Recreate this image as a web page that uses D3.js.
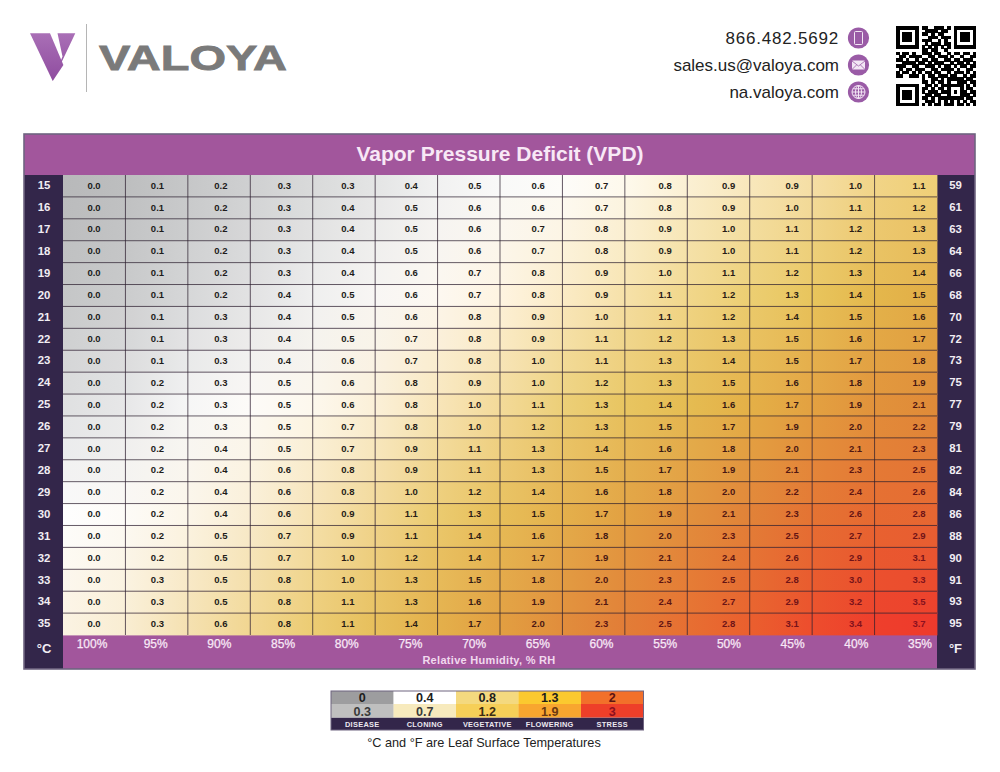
<!DOCTYPE html>
<html>
<head>
<meta charset="utf-8">
<title>Vapor Pressure Deficit (VPD)</title>
<script src="https://cdn.jsdelivr.net/npm/d3@7"></script>
<style>
  html, body { margin: 0; padding: 0; background: #fff; }
  svg { display: block; }
  text { font-family: "Liberation Sans", Arial, sans-serif; }
</style>
</head>
<body>
<div id="plot"></div>
<script>
const tempC = [15, 16, 17, 18, 19, 20, 21, 22, 23, 24, 25, 26, 27, 28, 29, 30, 31, 32, 33, 34, 35];
const tempF = [59, 61, 63, 64, 66, 68, 70, 72, 73, 75, 77, 79, 81, 82, 84, 86, 88, 90, 91, 93, 95];
const humidity = [100, 95, 90, 85, 80, 75, 70, 65, 60, 55, 50, 45, 40, 35];

const vpd = [
  [0.0, 0.1, 0.2, 0.3, 0.3, 0.4, 0.5, 0.6, 0.7, 0.8, 0.9, 0.9, 1.0, 1.1],
  [0.0, 0.1, 0.2, 0.3, 0.4, 0.5, 0.6, 0.6, 0.7, 0.8, 0.9, 1.0, 1.1, 1.2],
  [0.0, 0.1, 0.2, 0.3, 0.4, 0.5, 0.6, 0.7, 0.8, 0.9, 1.0, 1.1, 1.2, 1.3],
  [0.0, 0.1, 0.2, 0.3, 0.4, 0.5, 0.6, 0.7, 0.8, 0.9, 1.0, 1.1, 1.2, 1.3],
  [0.0, 0.1, 0.2, 0.3, 0.4, 0.6, 0.7, 0.8, 0.9, 1.0, 1.1, 1.2, 1.3, 1.4],
  [0.0, 0.1, 0.2, 0.4, 0.5, 0.6, 0.7, 0.8, 0.9, 1.1, 1.2, 1.3, 1.4, 1.5],
  [0.0, 0.1, 0.3, 0.4, 0.5, 0.6, 0.8, 0.9, 1.0, 1.1, 1.2, 1.4, 1.5, 1.6],
  [0.0, 0.1, 0.3, 0.4, 0.5, 0.7, 0.8, 0.9, 1.1, 1.2, 1.3, 1.5, 1.6, 1.7],
  [0.0, 0.1, 0.3, 0.4, 0.6, 0.7, 0.8, 1.0, 1.1, 1.3, 1.4, 1.5, 1.7, 1.8],
  [0.0, 0.2, 0.3, 0.5, 0.6, 0.8, 0.9, 1.0, 1.2, 1.3, 1.5, 1.6, 1.8, 1.9],
  [0.0, 0.2, 0.3, 0.5, 0.6, 0.8, 1.0, 1.1, 1.3, 1.4, 1.6, 1.7, 1.9, 2.1],
  [0.0, 0.2, 0.3, 0.5, 0.7, 0.8, 1.0, 1.2, 1.3, 1.5, 1.7, 1.9, 2.0, 2.2],
  [0.0, 0.2, 0.4, 0.5, 0.7, 0.9, 1.1, 1.3, 1.4, 1.6, 1.8, 2.0, 2.1, 2.3],
  [0.0, 0.2, 0.4, 0.6, 0.8, 0.9, 1.1, 1.3, 1.5, 1.7, 1.9, 2.1, 2.3, 2.5],
  [0.0, 0.2, 0.4, 0.6, 0.8, 1.0, 1.2, 1.4, 1.6, 1.8, 2.0, 2.2, 2.4, 2.6],
  [0.0, 0.2, 0.4, 0.6, 0.9, 1.1, 1.3, 1.5, 1.7, 1.9, 2.1, 2.3, 2.6, 2.8],
  [0.0, 0.2, 0.5, 0.7, 0.9, 1.1, 1.4, 1.6, 1.8, 2.0, 2.3, 2.5, 2.7, 2.9],
  [0.0, 0.2, 0.5, 0.7, 1.0, 1.2, 1.4, 1.7, 1.9, 2.1, 2.4, 2.6, 2.9, 3.1],
  [0.0, 0.3, 0.5, 0.8, 1.0, 1.3, 1.5, 1.8, 2.0, 2.3, 2.5, 2.8, 3.0, 3.3],
  [0.0, 0.3, 0.5, 0.8, 1.1, 1.3, 1.6, 1.9, 2.1, 2.4, 2.7, 2.9, 3.2, 3.5],
  [0.0, 0.3, 0.6, 0.8, 1.1, 1.4, 1.7, 2.0, 2.3, 2.5, 2.8, 3.1, 3.4, 3.7]
];

// background wash: it runs diagonally, so it is not a function of the value
const washRows = [0, 5, 10, 15, 20];
const washCols = [0, 2, 4, 6, 8, 10, 12, 13];
const washColors = [
  ['#b8b9ba', '#cacbcc', '#dedfdf', '#f7f7f7', '#fffdf9', '#f9ebc6', '#f3d998', '#efcf76'],
  ['#c5c6c7', '#dcdcdd', '#f5f5f5', '#fff9ef', '#f9e6b8', '#eed27c', '#e6c052', '#e2ad46'],
  ['#dfe0e1', '#fdfdfd', '#fdf6e8', '#f6dfa9', '#e9c968', '#e4b74a', '#e29a3e', '#e08a38'],
  ['#fefefe', '#fbf3e2', '#f4dca2', '#e8c55f', '#e2a945', '#e0893a', '#e56b30', '#e76632'],
  ['#fbf3e3', '#f3dba0', '#e9c764', '#e2a843', '#e0843a', '#e9682f', '#ee442c', '#ee3a2c']
];

const legendNames = ['DISEASE', 'CLONING', 'VEGETATIVE', 'FLOWERING', 'STRESS'];
const legendLow = ['0', '0.4', '0.8', '1.3', '2'];
const legendHigh = ['0.3', '0.7', '1.2', '1.9', '3'];
const legendLowColors = ['#9d9d9f', '#ffffff', '#f4d97f', '#fbc92f', '#f2702a'];
const legendHighColors = ['#bfbfbf', '#f7eabd', '#f6cf58', '#f8a62f', '#ee3f29'];

const contacts = ['866.482.5692', 'sales.us@valoya.com', 'na.valoya.com'];

const qrRows = [
  '1111111011001110101111111',
  '1000001001111011001000001',
  '1011101011010110001011101',
  '1011101000111011101011101',
  '1011101011100101001011101',
  '1000001001011101101000001',
  '1111111010101010101111111',
  '0000000011011001000000000',
  '1011010011101100101101101',
  '0110111100110111010010011',
  '1101001011011001101101110',
  '0011110110101110010110101',
  '1110011001110101101011011',
  '0101101110011011110100110',
  '1011010101101100101110101',
  '1100111010110111011001011',
  '0000000010011010111110110',
  '0000000011010110100111011',
  '1111111001101011111110101',
  '1000001011010110100010110',
  '1011101010111011101011011',
  '1011101001101100100011101',
  '1011101011010111111110110',
  '1000001001110101010101011',
  '1111111010101101110110101'
];

const width = 1000;
const height = 772;

const svg = d3
  .select('#plot')
  .append('svg')
  .attr('width', width)
  .attr('height', height);
const defs = svg.append('defs');

const purple = '#a2569c';
const navy = '#33264a';
const paleText = '#f8e8f6';

// header ------------------------------------------------------------------
const armGrad = defs.append('linearGradient').attr('id', 'arm').attr('x1', 0).attr('y1', 1).attr('x2', 0).attr('y2', 0);
armGrad.append('stop').attr('offset', 0).attr('stop-color', '#8f4c9f');
armGrad.append('stop').attr('offset', 1).attr('stop-color', '#a96fb6');

const logo = svg.append('g');
logo.append('path').attr('d', 'M57.5 33.3 H75.3 L52.7 81 L62.5 56.5 Z').attr('fill', 'url(#arm)');
logo.append('path').attr('d', 'M30 33.3 H50 L63.4 65 L52.7 81 Z').attr('fill', 'url(#arm)');
logo.append('line').attr('x1', 86.5).attr('x2', 86.5).attr('y1', 24).attr('y2', 92).attr('stroke', '#b5b5b5').attr('stroke-width', 1);
logo.append('text')
  .attr('x', 99)
  .attr('y', 70)
  .attr('font-size', 35)
  .attr('font-weight', 700)
  .attr('fill', '#7a7a7a')
  .attr('stroke', '#7a7a7a')
  .attr('stroke-width', 0.8)
  .attr('textLength', 188)
  .attr('lengthAdjust', 'spacingAndGlyphs')
  .text('VALOYA');

const contactY = d3.scalePoint().domain(contacts).range([38, 92]);

svg.append('g')
  .selectAll('text')
  .data(contacts)
  .enter()
  .append('text')
  .attr('x', 839)
  .attr('y', (d) => contactY(d) + 5.5)
  .attr('text-anchor', 'end')
  .attr('font-size', 17)
  .attr('letter-spacing', (d, i) => (i === 0 ? 0.8 : 0))
  .attr('fill', '#222')
  .text((d) => d);

const icons = svg.append('g')
  .selectAll('g')
  .data(contacts)
  .enter()
  .append('g')
  .attr('transform', (d) => `translate(858.5,${contactY(d)})`);
icons.append('circle').attr('r', 10.6).attr('fill', '#9a5ba6');

const iconLine = { fill: 'none', stroke: '#f3e6f5', 'stroke-width': 1 };
function styled(sel) {
  Object.keys(iconLine).forEach((k) => sel.attr(k, iconLine[k]));
  return sel;
}
styled(d3.select(icons.nodes()[0]).append('rect')).attr('x', -4).attr('y', -6.5).attr('width', 8).attr('height', 13).attr('rx', 1);
d3.select(icons.nodes()[1]).append('rect').attr('x', -6.5).attr('y', -4.5).attr('width', 13).attr('height', 9).attr('rx', 1).attr('fill', '#f3e6f5');
d3.select(icons.nodes()[1]).append('path').attr('d', 'M-6.5 -4 L0 1 L6.5 -4 M-6.5 4.5 L-2 0 M6.5 4.5 L2 0').attr('fill', 'none').attr('stroke', '#9a5ba6').attr('stroke-width', 0.8);
const globe = d3.select(icons.nodes()[2]);
styled(globe.append('circle')).attr('r', 6.5);
styled(globe.append('ellipse')).attr('rx', 3).attr('ry', 6.5);
styled(globe.append('path')).attr('d', 'M-6.5 0 H6.5 M-5.6 -3.2 H5.6 M-5.6 3.2 H5.6 M0 -6.5 V6.5');

const qrX = d3.scaleBand().domain(d3.range(25)).range([896, 976]);
const qrY = d3.scaleBand().domain(d3.range(25)).range([26, 106]);
const qrCells = [];
qrRows.forEach((row, r) => row.split('').forEach((c, i) => { if (c === '1') qrCells.push({ r, i }); }));
svg.append('g')
  .attr('shape-rendering', 'crispEdges')
  .selectAll('rect')
  .data(qrCells)
  .enter()
  .append('rect')
  .attr('x', (d) => qrX(d.i))
  .attr('y', (d) => qrY(d.r))
  .attr('width', qrX.bandwidth() + 0.3)
  .attr('height', qrY.bandwidth() + 0.3)
  .attr('fill', '#000');

// chart frame -------------------------------------------------------------
const x = d3.scaleBand().domain(humidity).range([63, 937]);
const y = d3.scaleBand().domain(tempC).range([175, 635]);
// the printed numbers sit on a slightly wider pitch than the grid
const labelX = d3.scalePoint().domain(humidity).range([94, 919]);
const headX = d3.scalePoint().domain(humidity).range([92, 920]);

svg.append('rect').attr('x', 24).attr('y', 134).attr('width', 951).attr('height', 535).attr('fill', purple);
svg.append('rect').attr('x', 24).attr('y', 175).attr('width', 39).attr('height', 494).attr('fill', navy);
svg.append('rect').attr('x', 937).attr('y', 175).attr('width', 38).attr('height', 494).attr('fill', navy);

svg.append('text')
  .attr('x', 500)
  .attr('y', 161)
  .attr('text-anchor', 'middle')
  .attr('font-size', 21)
  .attr('font-weight', 700)
  .attr('fill', paleText)
  .text('Vapor Pressure Deficit (VPD)');

// cells -------------------------------------------------------------------
const washScales = washColors.map((row) => d3.scaleLinear().domain(washCols).range(row).interpolate(d3.interpolateRgb));
function washAt(col, row) {
  const k = Math.min(washRows.length - 2, Math.floor(row / 5));
  const t = (row - washRows[k]) / (washRows[k + 1] - washRows[k]);
  const c = Math.max(0, Math.min(13, col));
  return d3.interpolateRgb(washScales[k](c), washScales[k + 1](c))(t);
}

const cells = [];
vpd.forEach((row, r) => row.forEach((v, c) => cells.push({ r, c, v })));

const cellGrads = defs.selectAll('linearGradient.cell')
  .data(cells)
  .enter()
  .append('linearGradient')
  .attr('class', 'cell')
  .attr('id', (d) => `cell-${d.r}-${d.c}`);
cellGrads.append('stop').attr('offset', 0).attr('stop-color', (d) => washAt(d.c - 0.5, d.r));
cellGrads.append('stop').attr('offset', 1).attr('stop-color', (d) => washAt(d.c + 0.5, d.r));

svg.append('g')
  .selectAll('rect')
  .data(cells)
  .enter()
  .append('rect')
  .attr('x', (d) => x(humidity[d.c]))
  .attr('y', (d) => y(tempC[d.r]))
  .attr('width', x.bandwidth() + 0.4)
  .attr('height', y.bandwidth() + 0.4)
  .attr('fill', (d) => `url(#cell-${d.r}-${d.c})`);

const grid = svg.append('g').attr('stroke', '#2b1f2e').attr('stroke-opacity', 0.72);
grid.selectAll('line.v')
  .data(humidity.slice(1))
  .enter()
  .append('line')
  .attr('class', 'v')
  .attr('x1', (d) => x(d))
  .attr('x2', (d) => x(d))
  .attr('y1', 175)
  .attr('y2', 635)
  .attr('stroke-width', 1);
grid.selectAll('line.h')
  .data(tempC.slice(1))
  .enter()
  .append('line')
  .attr('class', 'h')
  .attr('x1', 63)
  .attr('x2', 937)
  .attr('y1', (d) => y(d))
  .attr('y2', (d) => y(d))
  .attr('stroke-width', 1);

const inkScale = d3.scaleLinear().domain([0, 1.4, 2.3, 3.7]).range(['#1c1c1c', '#2c1c14', '#5c1512', '#8c1020']);

svg.append('g')
  .selectAll('text')
  .data(cells)
  .enter()
  .append('text')
  .attr('x', (d) => labelX(humidity[d.c]))
  .attr('y', (d) => y(tempC[d.r]) + y.bandwidth() / 2 + 2.7)
  .attr('text-anchor', 'middle')
  .attr('font-size', 9.5)
  .attr('font-weight', 700)
  .attr('fill', (d) => inkScale(d.v))
  .text((d) => d.v.toFixed(1));

// side and bottom labels --------------------------------------------------
function sideLabels(values, cx) {
  svg.append('g')
    .selectAll('text')
    .data(values)
    .enter()
    .append('text')
    .attr('x', cx)
    .attr('y', (d, i) => y(tempC[i]) + y.bandwidth() / 2 + 3.3)
    .attr('text-anchor', 'middle')
    .attr('font-size', 11.4)
    .attr('font-weight', 700)
    .attr('fill', '#f1edf3')
    .text((d) => d);
}
sideLabels(tempC, 44);
sideLabels(tempF, 955.5);

[['°C', 44], ['°F', 955.5]].forEach(([label, cx]) => {
  svg.append('text')
    .attr('x', cx)
    .attr('y', 653)
    .attr('text-anchor', 'middle')
    .attr('font-size', 13)
    .attr('font-weight', 700)
    .attr('fill', '#f1edf3')
    .text(label);
});

svg.append('g')
  .selectAll('text')
  .data(humidity)
  .enter()
  .append('text')
  .attr('x', (d) => headX(d))
  .attr('y', 647.5)
  .attr('text-anchor', 'middle')
  .attr('font-size', 12)
  .attr('fill', paleText)
  .attr('stroke', paleText)
  .attr('stroke-width', 0.25)
  .text((d) => d + '%');

svg.append('text')
  .attr('x', 489)
  .attr('y', 664)
  .attr('text-anchor', 'middle')
  .attr('font-size', 11)
  .attr('font-weight', 700)
  .attr('letter-spacing', 0.3)
  .attr('fill', '#f1d9ee')
  .text('Relative Humidity, % RH');

svg.append('rect')
  .attr('x', 24).attr('y', 134).attr('width', 951).attr('height', 535)
  .attr('fill', 'none').attr('stroke', '#6f6480').attr('stroke-width', 1.6);

// legend ------------------------------------------------------------------
const legendX = d3.scaleBand().domain(legendNames).range([331, 643.5]);
const legend = svg.append('g');

legend.append('rect').attr('x', 331).attr('y', 717.5).attr('width', 312.5).attr('height', 12.5).attr('fill', navy);

const legendCols = legend.selectAll('g')
  .data(legendNames)
  .enter()
  .append('g');

legendCols.append('rect')
  .attr('x', (d) => legendX(d)).attr('y', 691)
  .attr('width', legendX.bandwidth() + 0.3).attr('height', 13.3)
  .attr('fill', (d, i) => legendLowColors[i]);
legendCols.append('rect')
  .attr('x', (d) => legendX(d)).attr('y', 704)
  .attr('width', legendX.bandwidth() + 0.3).attr('height', 13.5)
  .attr('fill', (d, i) => legendHighColors[i]);

legendCols.append('text')
  .attr('x', (d) => legendX(d) + legendX.bandwidth() / 2)
  .attr('y', 702)
  .attr('text-anchor', 'middle')
  .attr('font-size', 12.6)
  .attr('font-weight', 700)
  .attr('fill', (d, i) => (i === 4 ? '#5a1414' : '#1c1c1c'))
  .text((d, i) => legendLow[i]);
legendCols.append('text')
  .attr('x', (d) => legendX(d) + legendX.bandwidth() / 2)
  .attr('y', 715.5)
  .attr('text-anchor', 'middle')
  .attr('font-size', 12.6)
  .attr('font-weight', 700)
  .attr('fill', (d, i) => ['#3a3a3a', '#3a3a3a', '#3d2d12', '#6b3a12', '#8c1020'][i])
  .text((d, i) => legendHigh[i]);
legendCols.append('text')
  .attr('x', (d) => legendX(d) + legendX.bandwidth() / 2)
  .attr('y', 727)
  .attr('text-anchor', 'middle')
  .attr('font-size', 7.4)
  .attr('font-weight', 700)
  .attr('letter-spacing', 0.3)
  .attr('fill', '#ece8ef')
  .text((d) => d);

legend.append('rect')
  .attr('x', 331).attr('y', 691).attr('width', 312.5).attr('height', 39)
  .attr('fill', 'none').attr('stroke', '#6f6480').attr('stroke-width', 1);

svg.append('text')
  .attr('x', 484)
  .attr('y', 746.5)
  .attr('text-anchor', 'middle')
  .attr('font-size', 12.7)
  .attr('fill', '#222')
  .text('°C and °F are Leaf Surface Temperatures');
</script>
</body>
</html>
